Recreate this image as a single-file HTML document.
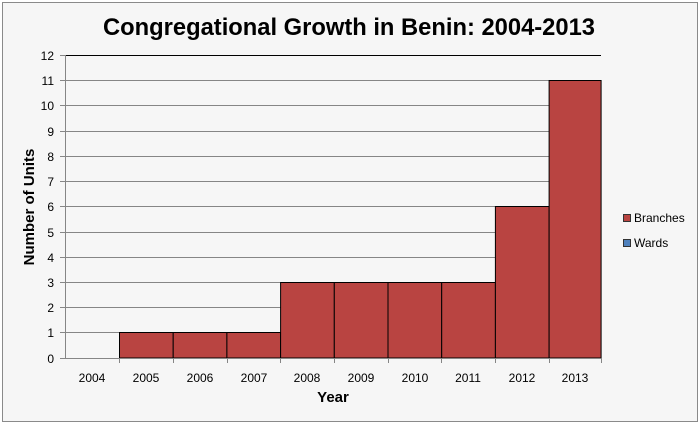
<!DOCTYPE html>
<html><head><style>body{margin:0;background:#fff}svg{display:block}</style></head><body>
<svg width="699" height="424" xmlns="http://www.w3.org/2000/svg" font-family="Liberation Sans, sans-serif">
<rect x="0" y="0" width="699" height="424" fill="#ffffff"/>
<rect x="2.5" y="2.5" width="695" height="419" fill="#f6f6f6" stroke="#8a8a8a" stroke-width="1"/>
<text x="349" y="35" font-size="24" font-weight="bold" text-anchor="middle" textLength="492" lengthAdjust="spacingAndGlyphs">Congregational Growth in Benin: 2004-2013</text>
<g stroke="#868686" stroke-width="1">
<line x1="65" y1="80.5" x2="601" y2="80.5"/><line x1="65" y1="105.5" x2="601" y2="105.5"/><line x1="65" y1="131.5" x2="601" y2="131.5"/><line x1="65" y1="156.5" x2="601" y2="156.5"/><line x1="65" y1="181.5" x2="601" y2="181.5"/><line x1="65" y1="206.5" x2="601" y2="206.5"/><line x1="65" y1="232.5" x2="601" y2="232.5"/><line x1="65" y1="257.5" x2="601" y2="257.5"/><line x1="65" y1="282.5" x2="601" y2="282.5"/><line x1="65" y1="307.5" x2="601" y2="307.5"/><line x1="65" y1="332.5" x2="601" y2="332.5"/>
</g>
<line x1="65" y1="55.5" x2="601" y2="55.5" stroke="#000"/>
<g fill="#b94441" stroke="#000" stroke-width="1">
<rect x="119.5" y="332.5" width="53.7" height="25.5"/>
<rect x="173.2" y="332.5" width="53.7" height="25.5"/>
<rect x="226.9" y="332.5" width="53.7" height="25.5"/>
<rect x="280.6" y="282.5" width="53.7" height="75.5"/>
<rect x="334.3" y="282.5" width="53.7" height="75.5"/>
<rect x="388" y="282.5" width="53.7" height="75.5"/>
<rect x="441.7" y="282.5" width="53.7" height="75.5"/>
<rect x="495.4" y="206.5" width="53.7" height="151.5"/>
<rect x="549.1" y="80.5" width="52" height="277.5"/>
</g>
<g stroke="#868686" stroke-width="1">
<line x1="65.5" y1="55" x2="65.5" y2="358"/>
<line x1="65" y1="358.5" x2="601" y2="358.5"/>
<line x1="60" y1="55.5" x2="65" y2="55.5"/><line x1="60" y1="80.5" x2="65" y2="80.5"/><line x1="60" y1="105.5" x2="65" y2="105.5"/><line x1="60" y1="131.5" x2="65" y2="131.5"/><line x1="60" y1="156.5" x2="65" y2="156.5"/><line x1="60" y1="181.5" x2="65" y2="181.5"/><line x1="60" y1="206.5" x2="65" y2="206.5"/><line x1="60" y1="232.5" x2="65" y2="232.5"/><line x1="60" y1="257.5" x2="65" y2="257.5"/><line x1="60" y1="282.5" x2="65" y2="282.5"/><line x1="60" y1="307.5" x2="65" y2="307.5"/><line x1="60" y1="332.5" x2="65" y2="332.5"/><line x1="60" y1="358.5" x2="65" y2="358.5"/>
<line x1="119.5" y1="358" x2="119.5" y2="363"/><line x1="173.5" y1="358" x2="173.5" y2="363"/><line x1="227.5" y1="358" x2="227.5" y2="363"/><line x1="280.5" y1="358" x2="280.5" y2="363"/><line x1="334.5" y1="358" x2="334.5" y2="363"/><line x1="388.5" y1="358" x2="388.5" y2="363"/><line x1="441.5" y1="358" x2="441.5" y2="363"/><line x1="495.5" y1="358" x2="495.5" y2="363"/><line x1="549.5" y1="358" x2="549.5" y2="363"/><line x1="601.5" y1="358" x2="601.5" y2="363"/>
</g>
<g font-size="12" text-anchor="end" fill="#000">
<text x="54" y="60">12</text><text x="54" y="85">11</text><text x="54" y="110">10</text><text x="54" y="136">9</text><text x="54" y="161">8</text><text x="54" y="186">7</text><text x="54" y="211">6</text><text x="54" y="237">5</text><text x="54" y="262">4</text><text x="54" y="287">3</text><text x="54" y="312">2</text><text x="54" y="337">1</text><text x="54" y="363">0</text>
</g>
<g font-size="12" text-anchor="middle" fill="#000">
<text x="92" y="382">2004</text><text x="146" y="382">2005</text><text x="200" y="382">2006</text><text x="254" y="382">2007</text><text x="307" y="382">2008</text><text x="361" y="382">2009</text><text x="415" y="382">2010</text><text x="468" y="382">2011</text><text x="522" y="382">2012</text><text x="575" y="382">2013</text>
</g>
<text x="333" y="402" font-size="15" font-weight="bold" text-anchor="middle">Year</text>
<text transform="translate(34,207) rotate(-90)" font-size="15" font-weight="bold" text-anchor="middle">Number of Units</text>
<rect x="623.5" y="214.5" width="7" height="7" fill="#b94441" stroke="#333"/>
<text x="634" y="222" font-size="12">Branches</text>
<rect x="623.5" y="239.5" width="7" height="7" fill="#4f81bd" stroke="#333"/>
<text x="634" y="247" font-size="12">Wards</text>
</svg>
</body></html>
